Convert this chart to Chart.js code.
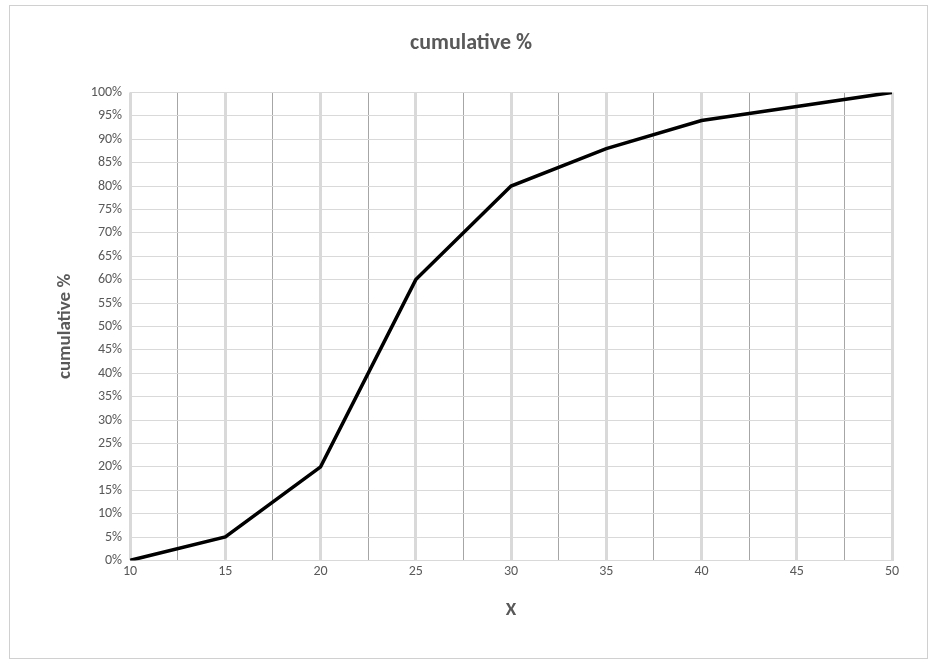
<!DOCTYPE html>
<html><head><meta charset="utf-8">
<script src="https://cdn.jsdelivr.net/npm/chart.js@4"></script>
<style>
html,body{margin:0;padding:0;background:#fff;}
#frame{position:absolute;left:9px;top:5px;width:919px;height:654px;border:1px solid #d0d0d0;box-sizing:border-box;}
#wrap{position:absolute;left:0;top:0;width:938px;height:668px;}
</style></head><body>
<div id="frame"></div>
<div id="wrap"><canvas id="c" width="938" height="668"></canvas></div>
<script>
const xValues = [10, 15, 20, 25, 30, 35, 40, 45, 50];
const cumulativePct = [0, 5, 20, 60, 80, 88, 94, 97, 100];
const chartTitle = 'cumulative %';
const xTitle = 'X';
const yTitle = 'cumulative %';
const font = "Calibri, Carlito, 'Liberation Sans', Arial, sans-serif";
new Chart(document.getElementById('c'), {
  type: 'line',
  data: { datasets: [{ data: xValues.map((x,i)=>({x, y: cumulativePct[i]})),
    borderColor: '#000', borderWidth: 3.5, pointRadius: 0, tension: 0 }] },
  options: {
    responsive: false, animation: false,
    layout: { padding: { left: 50, right: 46, top: 24, bottom: 42 } },
    plugins: { legend: { display: false }, tooltip: { enabled: false },
      title: { display: true, text: chartTitle, color: '#595959',
        font: { family: font, size: 22, weight: 'bold' }, padding: { top: 6, bottom: 36 } } },
    scales: {
      x: { type: 'linear', min: 10, max: 50,
        ticks: { stepSize: 2.5, color: '#595959', font: { family: font, size: 14 },
          callback: v => v % 5 === 0 ? v : '' , autoSkip: false, maxRotation: 0 },
        grid: { color: c => c.tick && c.tick.value % 5 === 0 ? '#d9d9d9' : '#a6a6a6',
          lineWidth: c => c.tick && c.tick.value % 5 === 0 ? 3 : 1, drawTicks: false },
        border: { color: '#d9d9d9' },
        title: { display: true, text: xTitle, color: '#595959', font: { family: font, size: 19, weight: 'bold' }, padding: { top: 16 } } },
      y: { min: 0, max: 100,
        ticks: { stepSize: 5, color: '#595959', font: { family: font, size: 14 }, callback: v => v + '%', padding: 8 },
        grid: { color: '#d9d9d9', lineWidth: 1, drawTicks: false },
        border: { color: '#d9d9d9' },
        title: { display: true, text: yTitle, color: '#595959', font: { family: font, size: 19, weight: 'bold' }, padding: { bottom: 6 } } }
    }
  }
});
</script></body></html>
